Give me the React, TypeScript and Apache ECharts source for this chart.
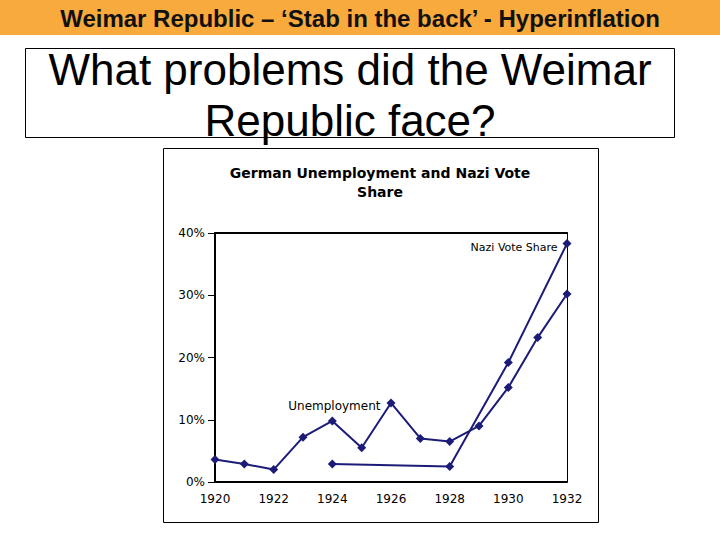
import React, { useEffect, useRef } from "react";
import * as echarts from "echarts";

const years = [1920, 1921, 1922, 1923, 1924, 1925, 1926, 1927, 1928, 1929, 1930, 1931, 1932];
const unemployment = [3.6, 2.9, 2.0, 7.2, 9.8, 5.5, 12.7, 7.0, 6.5, 9.0, 15.2, 23.2, 30.2];
const electionYears = [1924, 1928, 1930, 1932];
const naziVote = [2.9, 2.5, 19.2, 38.3];
const headerText = "Weimar Republic \u2013 \u2018Stab in the back\u2019 - Hyperinflation";
const questionText = "What problems did the Weimar\nRepublic face?";
const chartTitle = "German Unemployment and Nazi Vote\nShare";

const NAVY = "#1c1c78";

export default function App() {
  const ref = useRef<HTMLDivElement>(null);
  useEffect(() => {
    if (!ref.current) return;
    const chart = echarts.init(ref.current, null, { renderer: "svg" });
    const axisFont = { fontFamily: "DejaVu Sans", fontSize: 12, color: "#000" };
    chart.setOption({
      animation: false,
      backgroundColor: "#fff",
      graphic: [
        { type: "rect", shape: { x: 0, y: 0, width: 720, height: 35 }, style: { fill: "#F9AA3C" }, z: 0 },
        {
          type: "text", x: 360, y: 18, z: 1,
          style: { text: headerText, fontFamily: "Liberation Sans, Arial", fontWeight: "bold", fontSize: 24, fill: "#111", align: "center", verticalAlign: "middle" },
        },
        { type: "rect", shape: { x: 25.5, y: 48.5, width: 649, height: 89 }, style: { fill: "none", stroke: "#000", lineWidth: 1 }, z: 0 },
        {
          type: "text", x: 350, y: 44, z: 1,
          style: { text: questionText, fontFamily: "Liberation Sans, Arial", fontSize: 44, lineHeight: 51, fill: "#000", align: "center", verticalAlign: "top" },
        },
        { type: "rect", shape: { x: 163.5, y: 148.5, width: 435, height: 374 }, style: { fill: "none", stroke: "#000", lineWidth: 1 }, z: 0 },
        {
          type: "text", x: 380, y: 163, z: 1,
          style: { text: chartTitle, fontFamily: "DejaVu Sans", fontWeight: "bold", fontSize: 14, lineHeight: 19, fill: "#000", align: "center", verticalAlign: "top" },
        },
      ],
      grid: { left: 215, right: 153, top: 233, bottom: 58 },
      xAxis: [
        {
          type: "value", min: 1920, max: 1932, interval: 2,
          axisLine: { show: true, onZero: false, lineStyle: { color: "#000", width: 2 } },
          axisTick: { show: false },
          splitLine: { show: false },
          axisLabel: { ...axisFont, margin: 11, formatter: (v: number) => String(v) },
        },
        {
          type: "value", position: "top", min: 1920, max: 1932, interval: 2,
          axisLine: { show: true, onZero: false, lineStyle: { color: "#000", width: 2 } },
          axisTick: { show: false }, splitLine: { show: false }, axisLabel: { show: false },
        },
      ],
      yAxis: [
        {
          type: "value", min: 0, max: 40, interval: 10,
          axisLine: { show: true, onZero: false, lineStyle: { color: "#000", width: 2 } },
          axisTick: { show: true, length: 7, lineStyle: { color: "#000", width: 1 } },
          splitLine: { show: false },
          axisLabel: { ...axisFont, margin: 10, formatter: (v: number) => v + "%" },
        },
        {
          type: "value", position: "right", min: 0, max: 40, interval: 10,
          axisLine: { show: true, onZero: false, lineStyle: { color: "#000", width: 1 } },
          axisTick: { show: false }, splitLine: { show: false }, axisLabel: { show: false },
        },
      ],
      series: [
        {
          name: "Unemployment",
          type: "line",
          data: years.map((y, i) => [y, unemployment[i]]),
          symbol: "diamond", symbolSize: 9,
          lineStyle: { color: NAVY, width: 2 },
          itemStyle: { color: NAVY },
          markPoint: {
            symbol: "rect", symbolSize: 0,
            data: [{ coord: [1924.07, 12.2] }],
            label: { show: true, position: "inside", formatter: "Unemployment", fontFamily: "DejaVu Sans", fontSize: 12, color: "#000" },
          },
        },
        {
          name: "Nazi Vote Share",
          type: "line",
          data: electionYears.map((y, i) => [y, naziVote[i]]),
          symbol: "diamond", symbolSize: 9,
          lineStyle: { color: NAVY, width: 2 },
          itemStyle: { color: NAVY },
          markPoint: {
            symbol: "rect", symbolSize: 0,
            data: [{ coord: [1931.68, 37.6] }],
            label: { show: true, position: "left", distance: 0, formatter: "Nazi Vote Share", fontFamily: "DejaVu Sans", fontSize: 11, color: "#000" },
          },
        },
      ],
    });
    return () => chart.dispose();
  }, []);
  return <div ref={ref} style={{ position: "absolute", left: 0, top: 0, width: 720, height: 540 }} />;
}
